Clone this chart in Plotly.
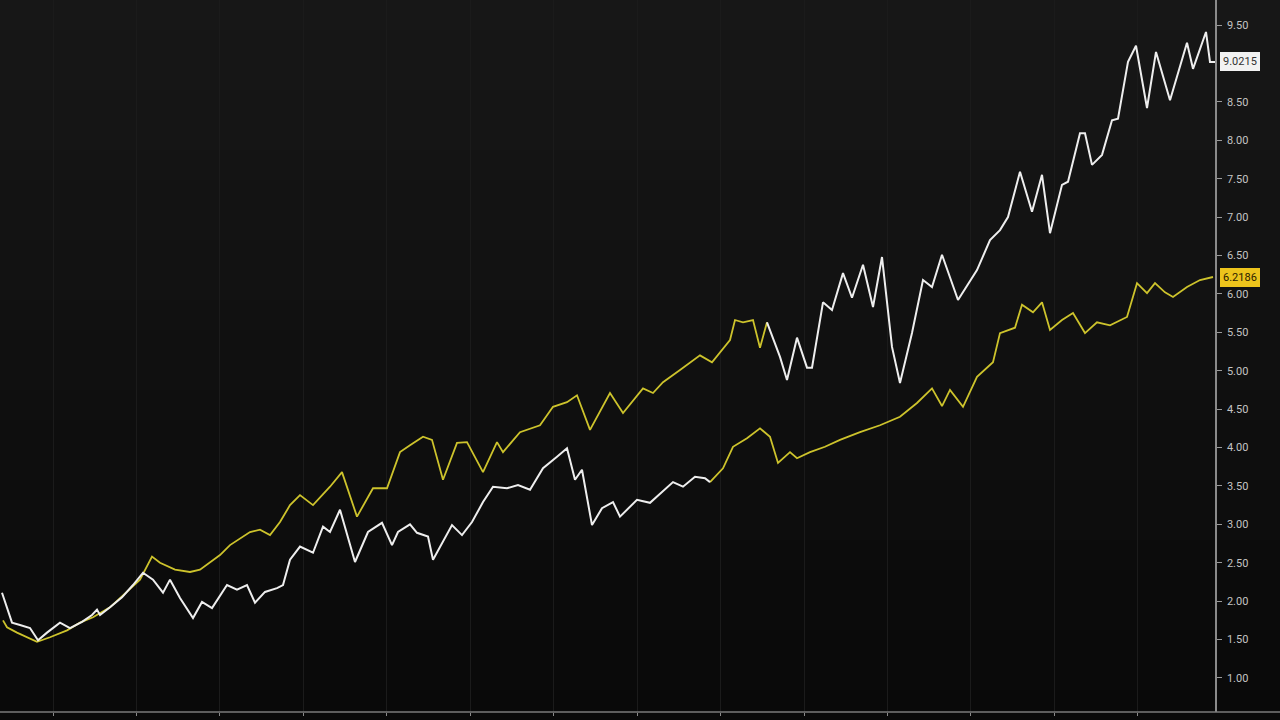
import plotly.graph_objects as go

# ---- data (time index, value) ----
# Series A: starts low, yellow until the switch point, then drawn white
series_a_t = [3, 7, 17, 27, 37, 50, 67, 80, 93, 110, 120, 130, 140, 152, 160, 175, 190, 200, 210, 220,
              230, 240, 250, 260, 270, 280, 290, 300, 313, 330, 342, 357, 373, 387, 400, 410, 423, 432, 443, 457,
              467, 483, 497, 503, 520, 540, 553, 567, 577, 590, 610, 623, 643, 653, 663, 680, 690, 700, 712, 722,
              730, 735, 743, 753, 760, 767,
              780, 787, 797, 807, 812, 823, 832, 843, 852, 863, 873, 882, 892, 900, 912, 923, 932, 942, 958, 977,
              990, 1000, 1008, 1020, 1032, 1042, 1050, 1062, 1068, 1080, 1085, 1092, 1102, 1112, 1118, 1128, 1136, 1147, 1156, 1170,
              1187, 1193, 1206, 1210, 1218]
series_a_v = [1.75, 1.66, 1.59, 1.53, 1.47, 1.53, 1.62, 1.72, 1.79, 1.92, 2.04, 2.15, 2.28, 2.58, 2.50, 2.41, 2.38, 2.41, 2.51, 2.60,
              2.73, 2.82, 2.90, 2.93, 2.86, 3.03, 3.25, 3.38, 3.25, 3.49, 3.68, 3.10, 3.47, 3.47, 3.94, 4.03, 4.14, 4.10, 3.58, 4.06,
              4.07, 3.68, 4.07, 3.94, 4.20, 4.29, 4.53, 4.59, 4.68, 4.23, 4.71, 4.45, 4.77, 4.71, 4.85, 5.01, 5.11, 5.20, 5.11, 5.27,
              5.40, 5.66, 5.63, 5.66, 5.30, 5.63,
              5.18, 4.88, 5.43, 5.04, 5.04, 5.89, 5.79, 6.27, 5.95, 6.38, 5.83, 6.48, 5.31, 4.84, 5.49, 6.18, 6.09, 6.51, 5.92, 6.31,
              6.70, 6.83, 7.00, 7.59, 7.07, 7.55, 6.79, 7.42, 7.46, 8.09, 8.09, 7.68, 7.81, 8.26, 8.28, 9.02, 9.23, 8.42, 9.15, 8.52,
              9.27, 8.93, 9.41, 9.02, 9.02]
series_a_switch = 767

# Series B: white until the switch point, then drawn yellow
series_b_t = [2, 12, 20, 30, 38, 47, 60, 70, 82, 92, 97, 100, 110, 122, 133, 143, 153, 163, 170, 180,
              193, 202, 212, 227, 237, 247, 255, 265, 277, 283, 290, 300, 313, 323, 330, 340, 355, 368, 382, 392,
              398, 410, 417, 428, 433, 452, 462, 472, 483, 493, 507, 518, 530, 543, 557, 567, 575, 582, 592, 602,
              613, 620, 637, 650, 673, 683, 695, 705, 710,
              723, 733, 747, 760, 770, 778, 790, 797, 810, 825, 840, 860, 880, 900, 917, 932, 942, 950, 963, 977,
              993, 1000, 1015, 1022, 1033, 1042, 1050, 1062, 1073, 1085, 1097, 1110, 1127, 1137, 1147, 1155, 1165, 1173, 1187, 1200,
              1213]
series_b_v = [2.11, 1.72, 1.69, 1.65, 1.49, 1.59, 1.72, 1.65, 1.73, 1.82, 1.89, 1.82, 1.92, 2.05, 2.21, 2.37, 2.28, 2.11, 2.28, 2.04,
              1.78, 1.99, 1.91, 2.21, 2.15, 2.21, 1.98, 2.12, 2.17, 2.21, 2.54, 2.71, 2.63, 2.97, 2.90, 3.19, 2.51, 2.90, 3.02, 2.73,
              2.90, 3.00, 2.89, 2.84, 2.54, 2.99, 2.86, 3.03, 3.29, 3.49, 3.47, 3.51, 3.45, 3.73, 3.88, 3.99, 3.58, 3.71, 2.99, 3.21,
              3.29, 3.10, 3.32, 3.28, 3.55, 3.49, 3.62, 3.60, 3.55,
              3.73, 4.01, 4.12, 4.25, 4.14, 3.80, 3.94, 3.86, 3.94, 4.01, 4.10, 4.20, 4.29, 4.40, 4.58, 4.77, 4.54, 4.75, 4.53, 4.92,
              5.11, 5.49, 5.56, 5.86, 5.76, 5.89, 5.53, 5.66, 5.75, 5.49, 5.63, 5.59, 5.70, 6.14, 6.01, 6.14, 6.02, 5.96, 6.09, 6.18,
              6.22]
series_b_switch = 710

# right-axis tick values (the 9.00 tick sits under the last-value tag in the reference)
y_ticks = [1.0, 1.5, 2.0, 2.5, 3.0, 3.5, 4.0, 4.5, 5.0, 5.5, 6.0, 6.5, 7.0, 7.5, 8.0, 8.5, 9.5]

label_white = "9.0215"
label_yellow = "6.2186"

WHITE = "#eeeeee"
YELLOW = "#cdc32c"


def split(ts, vs, sw):
    i = ts.index(sw)
    return (ts[:i + 1], vs[:i + 1]), (ts[i:], vs[i:])


(a1, a2) = split(series_a_t, series_a_v, series_a_switch)
(b1, b2) = split(series_b_t, series_b_v, series_b_switch)

fig = go.Figure()
fig.add_trace(go.Scatter(x=a1[0], y=a1[1], mode="lines", line=dict(color=YELLOW, width=1.8), hoverinfo="skip"))
fig.add_trace(go.Scatter(x=b2[0], y=b2[1], mode="lines", line=dict(color=YELLOW, width=1.8), hoverinfo="skip"))
fig.add_trace(go.Scatter(x=b1[0], y=b1[1], mode="lines", line=dict(color=WHITE, width=2), hoverinfo="skip"))
fig.add_trace(go.Scatter(x=a2[0], y=a2[1], mode="lines", line=dict(color=WHITE, width=2), hoverinfo="skip"))

# vertical background gradient (dark grey at top to near black at bottom)
shapes = []
n = 24
top = (23, 23, 23)
bot = (9, 9, 9)
for k in range(n):
    f = k / (n - 1)
    c = tuple(int(round(top[j] + (bot[j] - top[j]) * f)) for j in range(3))
    y1 = 1 - k / n * (720 / 712)
    y0 = 1 - (k + 1) / n * (720 / 712)
    shapes.append(dict(type="rect", xref="paper", yref="paper", x0=0, x1=1280 / 1215, y0=y0, y1=y1,
                       fillcolor="rgb(%d,%d,%d)" % c, line=dict(width=0), layer="below"))
# bottom baseline running across the full width
shapes.append(dict(type="line", xref="paper", yref="paper", x0=0, x1=1280 / 1215, y0=0, y1=0,
                   line=dict(color="#7a7a7a", width=1.5), layer="above"))

fig.update_layout(
    width=1280, height=720,
    margin=dict(l=0, r=65, t=0, b=8),
    paper_bgcolor="#0e0e0e", plot_bgcolor="rgba(0,0,0,0)",
    showlegend=False,
    shapes=shapes,
    xaxis=dict(range=[0, 1215], showgrid=True, gridcolor="#1b1b1b", gridwidth=1,
               tick0=53, dtick=83.45, ticks="outside", ticklen=3, tickcolor="#8a8a8a",
               showticklabels=False, zeroline=False, showline=False, fixedrange=True),
    yaxis=dict(side="right", range=[0.557, 9.826], tickvals=y_ticks, tickformat=".2f",
               showgrid=False, zeroline=False, showline=True, linecolor="#8a8a8a", linewidth=1.5,
               ticks="outside", ticklen=5, tickcolor="#9a9a9a", ticklabelstandoff=3,
               tickfont=dict(family="Roboto", size=11, color="#c4c4c4"), fixedrange=True),
    annotations=[
        dict(xref="paper", yref="y", x=1, y=series_a_v[-1], xanchor="left", yanchor="middle", xshift=5,
             text=label_white, showarrow=False, bgcolor="#f2f2f2", bordercolor="#f2f2f2", borderpad=2,
             font=dict(family="Roboto", size=11, color="#333333")),
        dict(xref="paper", yref="y", x=1, y=series_b_v[-1], xanchor="left", yanchor="middle", xshift=5,
             text=label_yellow, showarrow=False, bgcolor="#edc41c", bordercolor="#edc41c", borderpad=2,
             font=dict(family="Roboto", size=11, color="#2b2100")),
    ],
)

fig.write_html("out.html", config={"displayModeBar": False},
               post_script="document.body.style.margin='0';document.body.style.background='#0e0e0e';")
